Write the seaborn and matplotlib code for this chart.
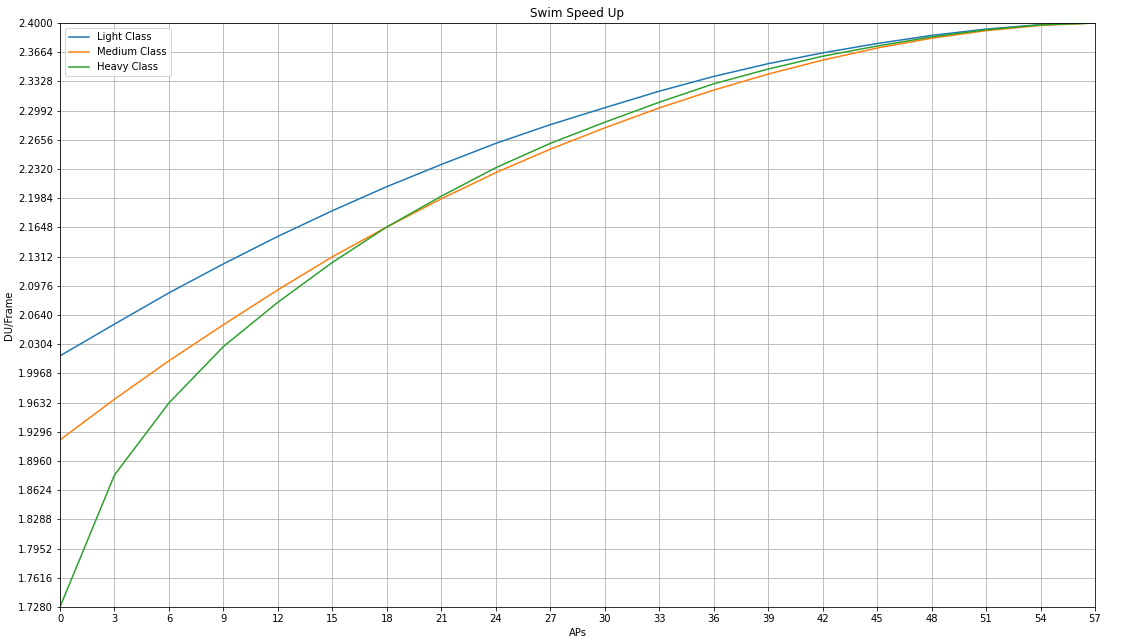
import numpy as np
import pandas as pd
import matplotlib
matplotlib.use("Agg")
import matplotlib.pyplot as plt
import seaborn as sns

aps = [0, 3, 6, 9, 12, 15, 18, 21, 24, 27, 30, 33, 36, 39, 42, 45, 48, 51, 54, 57]
light = [2.0170, 2.0535, 2.0895, 2.1228, 2.1545, 2.1840, 2.2117, 2.2372, 2.2615, 2.2830,
         2.3025, 2.3215, 2.3385, 2.3532, 2.3656, 2.3764, 2.3857, 2.3930, 2.3981, 2.4000]
medium = [1.9202, 1.9671, 2.0113, 2.0528, 2.0930, 2.1310, 2.1653, 2.1977, 2.2278, 2.2548,
          2.2793, 2.3023, 2.3228, 2.3412, 2.3573, 2.3712, 2.3825, 2.3912, 2.3972, 2.4000]
heavy = [1.7280, 1.8799, 1.9628, 2.0277, 2.0787, 2.1245, 2.1653, 2.2007, 2.2335, 2.2615,
         2.2858, 2.3088, 2.3300, 2.3470, 2.3618, 2.3735, 2.3840, 2.3922, 2.3978, 2.4000]
series_names = ["Light Class", "Medium Class", "Heavy Class"]

df = pd.concat([
    pd.DataFrame({"APs": aps, "DU/Frame": vals, "Class": name})
    for name, vals in zip(series_names, [light, medium, heavy])
])

fig = plt.figure(figsize=(1128/72, 644/72), dpi=72)
ax = fig.add_axes([60/1128, 1-607/644, (1095-60)/1128, (607-23)/644])
sns.lineplot(data=df, x="APs", y="DU/Frame", hue="Class", ax=ax,
             palette=["#1f77b4", "#ff7f0e", "#2ca02c"], linewidth=1.5)
ax.set_xlim(0, 57)
ax.set_ylim(1.728, 2.4)
ax.set_xticks(np.arange(0, 58, 3))
yt = np.linspace(1.728, 2.4, 21)
ax.set_yticks(yt)
ax.set_yticklabels([f"{v:.4f}" for v in yt])
ax.grid(True, color="#b0b0b0", linewidth=0.8)
ax.set_title("Swim Speed Up")
ax.set_xlabel("APs")
ax.set_ylabel("DU/Frame")
ax.legend(loc="upper left", title=None)
fig.savefig("out.png", dpi=72)
